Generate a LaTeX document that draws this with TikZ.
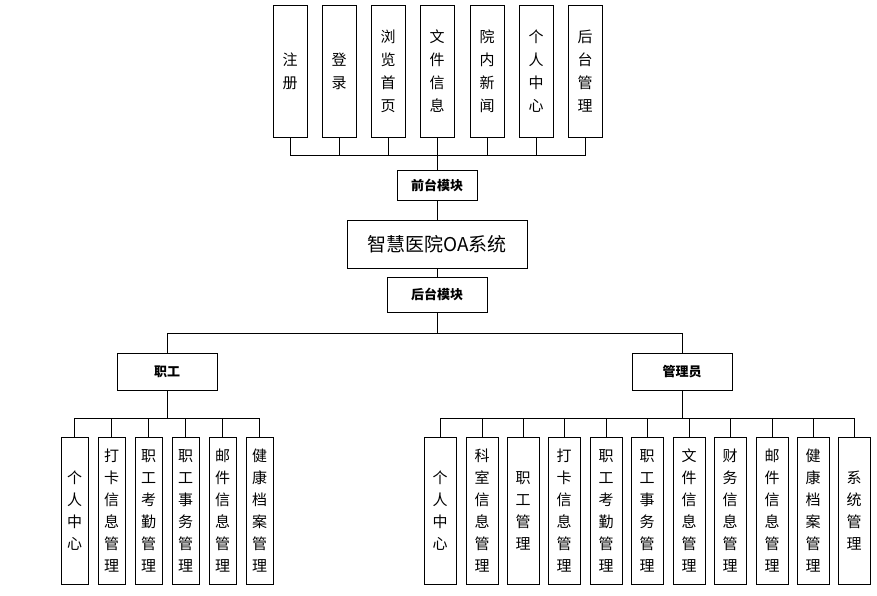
\documentclass[tikz,border=0pt]{standalone}
\usepackage{fontspec}
\setmainfont{Noto Sans CJK SC}
\begin{document}
\begin{tikzpicture}[x=1pt,y=-1pt,
  bx/.style={draw,thick,fill=white,inner sep=0pt,align=center,font=\fontsize{15}{23}\selectfont},
  ln/.style={draw,thick}]
\useasboundingbox (0,0) rectangle (877,595);
% top boxes
\foreach \i/\x/\t in {1/273/注\\册,2/322/登\\录,3/371/浏\\览\\首\\页,4/420/文\\件\\信\\息,5/470/院\\内\\新\\闻,6/519/个\\人\\中\\心,7/568/后\\台\\管\\理}
  \node[bx,minimum width=34pt,minimum height=132pt] (t\i) at (\x+17,71) {\t};
\node[bx,minimum width=80pt,minimum height=30pt,font=\fontsize{13}{15}\selectfont\bfseries] (qt) at (437,185) {前台模块};
\node[bx,minimum width=180pt,minimum height=48pt,font=\fontsize{19}{22}\selectfont] (main) at (437,244) {智慧医院OA系统};
\node[bx,minimum width=100pt,minimum height=35pt,font=\fontsize{13}{15}\selectfont\bfseries] (ht) at (437,294.5) {后台模块};
\node[bx,minimum width=100pt,minimum height=37pt,font=\fontsize{13}{15}\selectfont\bfseries] (zg) at (167,371.5) {职工};
\node[bx,minimum width=100pt,minimum height=37pt,font=\fontsize{13}{15}\selectfont\bfseries] (gl) at (682,371.5) {管理员};
\coordinate (tb) at (437,155);
\draw[ln] (qt.north) -- (tb);
\foreach \i in {1,...,7} \draw[ln] (t\i.south) |- (tb);
\draw[ln] (qt.south) -- (main.north);
\draw[ln] (main.south) -- (ht.north);
\coordinate (hb) at (437,333);
\draw[ln] (ht.south) -- (hb);
\draw[ln] (zg.north) |- (hb);
\draw[ln] (gl.north) |- (hb);
% employee
\coordinate (eb) at (167,418);
\draw[ln] (zg.south) -- (eb);
\foreach \i/\x/\t in {1/61/个\\人\\中\\心,2/98/打\\卡\\信\\息\\管\\理,3/135/职\\工\\考\\勤\\管\\理,4/172/职\\工\\事\\务\\管\\理,5/209/邮\\件\\信\\息\\管\\理,6/246/健\\康\\档\\案\\管\\理}
  {\node[bx,minimum width=27pt,minimum height=147pt,font=\fontsize{15}{22}\selectfont] (e\i) at (\x+13.5,510.5) {\t};
   \draw[ln] (e\i.north) |- (eb);}
% admin
\coordinate (ab) at (682,418);
\draw[ln] (gl.south) -- (ab);
\foreach \i/\x/\t in {1/424/个\\人\\中\\心,2/466/科\\室\\信\\息\\管\\理,3/507/职\\工\\管\\理,4/548/打\\卡\\信\\息\\管\\理,5/590/职\\工\\考\\勤\\管\\理,6/631/职\\工\\事\\务\\管\\理,7/673/文\\件\\信\\息\\管\\理,8/714/财\\务\\信\\息\\管\\理,9/756/邮\\件\\信\\息\\管\\理,10/797/健\\康\\档\\案\\管\\理,11/838/系\\统\\管\\理}
  {\node[bx,minimum width=32pt,minimum height=147pt,font=\fontsize{15}{22}\selectfont] (a\i) at (\x+16,510.5) {\t};
   \draw[ln] (a\i.north) |- (ab);}
\end{tikzpicture}
\end{document}
